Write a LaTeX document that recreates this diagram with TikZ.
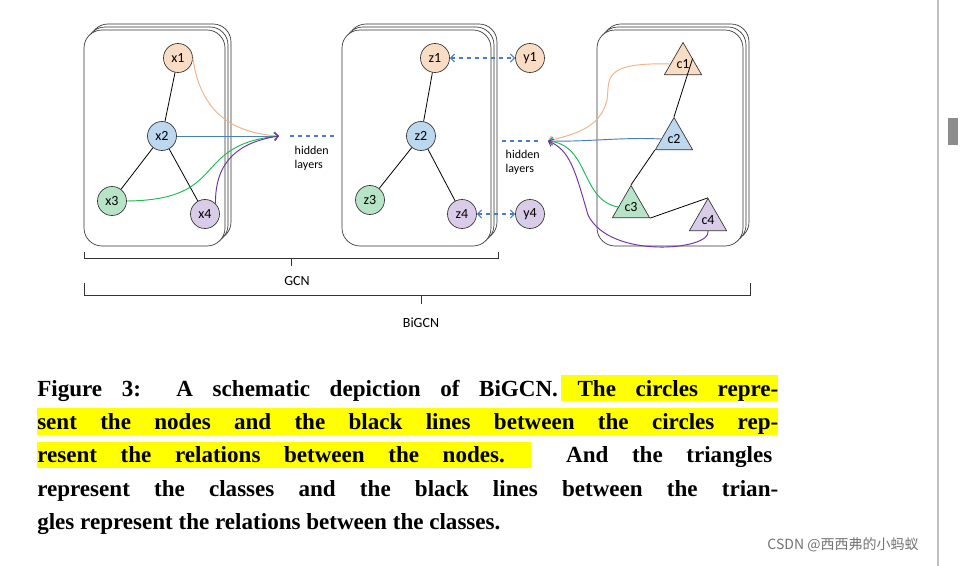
\documentclass[tikz,border=0pt]{standalone}
\usepackage{fontspec}
\setmainfont{Liberation Serif}
\newfontfamily\dsans{Carlito}
\newfontfamily\cjk{Noto Sans CJK SC}
\usetikzlibrary{shapes.geometric,arrows.meta}
\definecolor{orF}{HTML}{F9DCC4}\definecolor{orL}{HTML}{F4B183}
\definecolor{blF}{HTML}{BDD7EE}\definecolor{blL}{HTML}{4A7EBB}
\definecolor{grF}{HTML}{B7E4C7}\definecolor{grL}{HTML}{1DB954}
\definecolor{puF}{HTML}{D9CCE8}\definecolor{puL}{HTML}{7030A0}
\definecolor{hl}{HTML}{FFFF00}
\begin{document}
\begin{tikzpicture}[x=0.75pt,y=-0.75pt,
 circ/.style={circle,draw=black!80,line width=0.5pt,minimum size=21.75pt,inner sep=0pt,font=\dsans\fontsize{10.5pt}{12pt}\selectfont},
 tri/.style={regular polygon,regular polygon sides=3,draw=black!80,line width=0.5pt,minimum size=32.25pt,inner sep=0pt,font=\dsans\fontsize{10.5pt}{12pt}\selectfont},
 panel/.style={draw=black!80,line width=0.5pt,rounded corners=13.5pt,fill=white},
 edge/.style={line width=0.6pt},
 flow/.style={line width=0.7pt,-{Straight Barb[length=3pt]}},
 dd/.style={blL,line width=0.8pt,dashed},
 lbl/.style={font=\dsans\fontsize{9pt}{11pt}\selectfont,align=left,anchor=north west},
 captxt/.style={anchor=base west,inner sep=0pt,font=\bfseries\fontsize{17.3pt}{20pt}\selectfont}]
\path[use as bounding box,fill=white] (0,0) rectangle (966,566);
% scrollbar
\draw[black!25,line width=1pt] (938,0) -- (938,566);
\fill[black!45] (948,118) rectangle (958,145);
% panels
\foreach \a/\b in {84/225,342/491,597/743}{
 \foreach \o in {6,3,0}{\draw[panel] (\a+\o,30-\o) rectangle (\b+\o,246-\o);}}
% nodes
\node[circ,fill=orF] (x1) at (178,58) {x1};
\node[circ,fill=blF] (x2) at (162,136) {x2};
\node[circ,fill=grF] (x3) at (112,201) {x3};
\node[circ,fill=puF] (x4) at (205,214) {x4};
\node[circ,fill=orF] (z1) at (435,58) {z1};
\node[circ,fill=blF] (z2) at (421,136) {z2};
\node[circ,fill=grF] (z3) at (370,200) {z3};
\node[circ,fill=puF] (z4) at (462,214) {z4};
\node[circ,fill=orF] (y1) at (530,58) {y1};
\node[circ,fill=puF] (y4) at (530,214) {y4};
\node[tri,fill=orF] (c1) at (683,64) {c1};
\node[tri,fill=blF] (c2) at (674,139) {c2};
\node[tri,fill=grF] (c3) at (631,207) {c3};
\node[tri,fill=puF] (c4) at (708,220) {c4};
\draw[edge] (x1) -- (x2); \draw[edge] (x2) -- (x3); \draw[edge] (x2) -- (x4);
\draw[edge] (z1) -- (z2); \draw[edge] (z2) -- (z3); \draw[edge] (z2) -- (z4);
\draw[edge] (c1.side 3) -- (c2.corner 1);
\draw[edge] (c2.corner 2) -- (c3.corner 1);
\draw[edge] (c3.corner 3) -- (c4.corner 1);
% hidden layers
\coordinate (hL) at (279,136); \coordinate (hR) at (548,141);
\coordinate (hLe) at (337,136); \coordinate (hRe) at (502,141);
\draw[dd] (290,136) -- (hLe);
\draw[dd] (hRe) -- (540,141);
\node[lbl] (t1) at (290,141) {hidden\\layers};
\node[lbl] (t2) at (501,145) {hidden\\layers};
\draw[dd,{Straight Barb[length=3pt]}-{Straight Barb[length=3pt]}] (z1) -- (y1);
\draw[dd,{Straight Barb[length=3pt]}-{Straight Barb[length=3pt]}] (z4) -- (y4);
% flows left
\draw[flow,orL] (x1.east) .. controls (200,110) and (230,133) .. (hL);
\draw[flow,blL] (x2.east) -- (hL);
\draw[flow,grL] (x3.east) .. controls (230,200) and (190,145) .. (hL);
\draw[flow,puL] (x4.north east) .. controls (215,160) and (240,142) .. (hL);
% flows right
\draw[flow,orL] (c1.west) .. controls (600,62) and (610,80) .. (607,100) .. controls (600,130) and (570,135) .. (hR);
\draw[flow,blL] (c2.west) .. controls (620,137) and (590,142) .. (hR);
\draw[flow,grL] (c3.west) .. controls (580,200) and (590,145) .. (hR);
\draw[flow,puL] (c4.south) .. controls (712,250) and (610,260) .. (588,215) .. controls (575,170) and (570,150) .. (hR);
% braces
\coordinate (g1) at (84,252); \coordinate (g2) at (498,252);
\draw[black!80,line width=0.6pt] (g1) -- (84,258) -- (291,258) -- (291,266) (291,258) -- (498,258) -- (g2);
\node[font=\dsans\fontsize{10.5pt}{12pt}\selectfont] (gcn) at (297,281) {GCN};
\coordinate (b1) at (84,283); \coordinate (b2) at (750,283);
\draw[black!80,line width=0.6pt] (b1) -- (84,295) -- (421,295) -- (421,304) (421,295) -- (750,295) -- (b2);
\node[font=\dsans\fontsize{10.5pt}{12pt}\selectfont] (bgcn) at (421,323) {BiGCN};
% highlights
\fill[hl] (561,375) rectangle (778,401);
\fill[hl] (37,408) rectangle (778,435);
\fill[hl] (37,442) rectangle (531,468);
% caption
\node[captxt] (l1) at (37,396) {\makebox[555.75pt][s]{Figure 3: A schematic depiction of BiGCN. The circles repre-}};
\node[captxt] (l2) at (37,429) {\makebox[555.75pt][s]{sent the nodes and the black lines between the circles rep-}};
\node[captxt] (l3) at (37,462) {\makebox[551.25pt][s]{resent the relations between the nodes. And the triangles}};
\node[captxt] (l4) at (37,496) {\makebox[555.75pt][s]{represent the classes and the black lines between the trian-}};
\node[captxt] (l5) at (37,529) {gles represent the relations between the classes.};
\node[font=\cjk\fontsize{10.5pt}{12pt}\selectfont,text=black!55] (wm) at (843,545) {CSDN @西西弗的小蚂蚁};
\end{tikzpicture}
\end{document}
